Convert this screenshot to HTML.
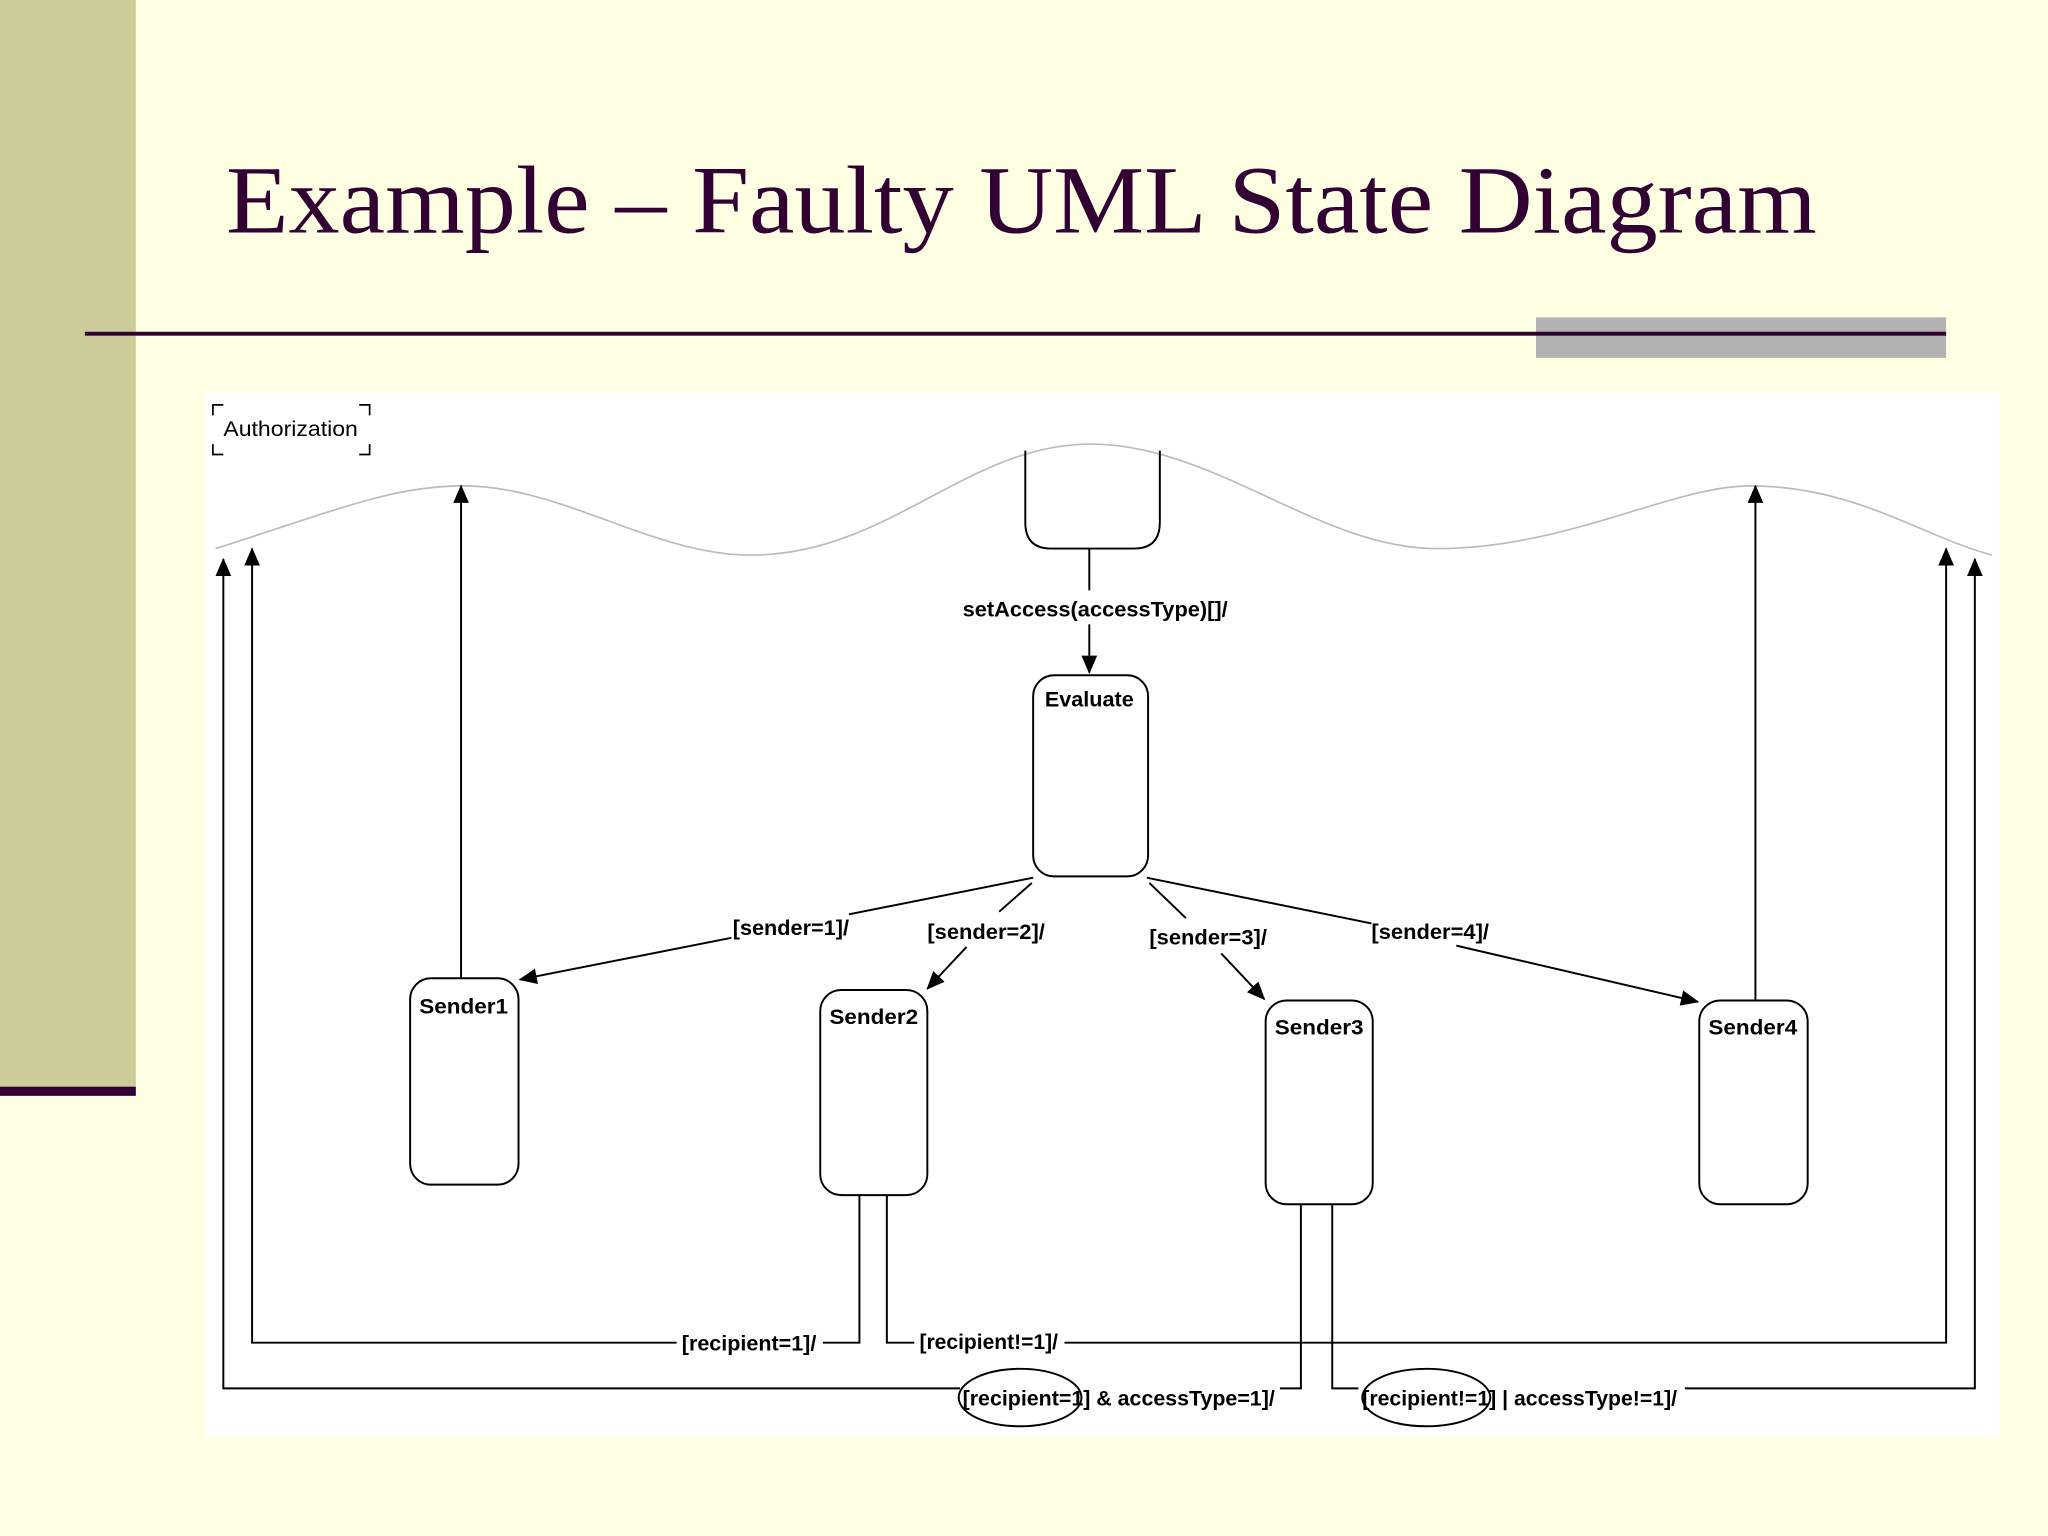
<!DOCTYPE html>
<html><head><meta charset="utf-8"><style>
html,body{margin:0;padding:0;background:#FFFFE3;}
svg{display:block}
</style></head><body>
<svg width="2048" height="1536" viewBox="0 0 1568 1176" xmlns="http://www.w3.org/2000/svg">
<defs>
<marker id="ah" markerWidth="14" markerHeight="14" refX="13" refY="7" orient="auto" markerUnits="userSpaceOnUse" viewBox="0 0 14 14">
<path d="M0,1 L14,7 L0,13 z" fill="#000"/></marker>
</defs>
<rect width="1568" height="1176" fill="#FFFFE3"/>
<rect x="0" y="0" width="104" height="834" fill="#CCCC99"/>
<rect x="0" y="832" width="104" height="7" fill="#330033"/>
<text x="173" y="178" font-family="Liberation Serif, serif" font-size="74" fill="#330033" textLength="1218" lengthAdjust="spacingAndGlyphs">Example – Faulty UML State Diagram</text>
<rect x="1176" y="243" width="314" height="31" fill="#B2B2B2"/>
<rect x="65" y="254" width="1425" height="3" fill="#330033"/>
<rect x="157" y="300" width="1374" height="800" fill="#fff"/>
<g fill="none" stroke="#000" stroke-width="1.3">
<path d="M163,318 v-8 h8 M275,310 h8 v8 M163,340 v8 h8 M275,348 h8 v-8"/>
</g>
<path d="M165,420 C260,390 300,372 355,372 C430,372 500,425 575,425 C680,425 740,340 835,340 C930,340 1010,420 1100,420 C1200,420 1280,372 1340,372 C1420,372 1470,410 1525,425" fill="none" stroke="#bbb" stroke-width="1.3"/>
<g fill="none" stroke="#000" stroke-width="1.5">
<path d="M785,345 V400 Q785,420 805,420 H868 Q888,420 888,400 V345"/>
<rect x="791" y="517" width="88" height="154" rx="16"/>
<rect x="314" y="749" width="83" height="158" rx="16"/>
<rect x="628" y="758" width="82" height="157" rx="16"/>
<rect x="969" y="766" width="82" height="156" rx="16"/>
<rect x="1301" y="766" width="83" height="156" rx="16"/>
<line x1="834" y1="420" x2="834" y2="452"/>
<line x1="834" y1="478" x2="834" y2="515" marker-end="url(#ah)"/>
<polyline points="791,672 650,700"/>
<polyline points="560,718 398,750" marker-end="url(#ah)"/>
<line x1="790" y1="676" x2="765" y2="698"/>
<line x1="740" y1="725" x2="710" y2="757" marker-end="url(#ah)"/>
<line x1="880" y1="676" x2="908" y2="703"/>
<line x1="935" y1="730" x2="968" y2="765" marker-end="url(#ah)"/>
<line x1="878" y1="672" x2="1050" y2="707"/>
<line x1="1115" y1="724" x2="1300" y2="767" marker-end="url(#ah)"/>
<line x1="353" y1="749" x2="353" y2="372" marker-end="url(#ah)"/>
<line x1="1344" y1="766" x2="1344" y2="372" marker-end="url(#ah)"/>
<polyline points="658,915 658,1028 630,1028"/>
<polyline points="518,1028 193,1028 193,420" marker-end="url(#ah)"/>
<polyline points="679,915 679,1028 700,1028"/>
<polyline points="815,1028 1490,1028 1490,420" marker-end="url(#ah)"/>
<polyline points="996,922 996,1063 980,1063"/>
<polyline points="735,1063 171,1063 171,428" marker-end="url(#ah)"/>
<polyline points="1020,922 1020,1063 1040,1063"/>
<polyline points="1290,1063 1512,1063 1512,428" marker-end="url(#ah)"/>
<ellipse cx="781" cy="1070" rx="47" ry="22"/>
<ellipse cx="1092" cy="1070" rx="49" ry="22"/>
</g>
<g font-family="Liberation Sans, sans-serif" font-size="16" font-weight="bold" fill="#000" lengthAdjust="spacingAndGlyphs">
<text x="171" y="334" font-weight="normal" textLength="103" lengthAdjust="spacingAndGlyphs">Authorization</text>
<text x="737" y="472" textLength="203" lengthAdjust="spacingAndGlyphs">setAccess(accessType)[]/</text>
<text x="800" y="541" textLength="68" lengthAdjust="spacingAndGlyphs">Evaluate</text>
<text x="321" y="776" textLength="68" lengthAdjust="spacingAndGlyphs">Sender1</text>
<text x="635" y="784" textLength="68" lengthAdjust="spacingAndGlyphs">Sender2</text>
<text x="976" y="792" textLength="68" lengthAdjust="spacingAndGlyphs">Sender3</text>
<text x="1308" y="792" textLength="68" lengthAdjust="spacingAndGlyphs">Sender4</text>
<text x="561" y="716" textLength="89" lengthAdjust="spacingAndGlyphs">[sender=1]/</text>
<text x="710" y="719" textLength="90" lengthAdjust="spacingAndGlyphs">[sender=2]/</text>
<text x="880" y="723" textLength="90" lengthAdjust="spacingAndGlyphs">[sender=3]/</text>
<text x="1050" y="719" textLength="90" lengthAdjust="spacingAndGlyphs">[sender=4]/</text>
<text x="522" y="1034" textLength="103" lengthAdjust="spacingAndGlyphs">[recipient=1]/</text>
<text x="704" y="1033" textLength="106" lengthAdjust="spacingAndGlyphs">[recipient!=1]/</text>
<text x="737" y="1076" textLength="239" lengthAdjust="spacingAndGlyphs">[recipient=1] &amp; accessType=1]/</text>
<text x="1043" y="1076" textLength="241" lengthAdjust="spacingAndGlyphs">[recipient!=1] | accessType!=1]/</text>
</g>
</svg>
</body></html>
